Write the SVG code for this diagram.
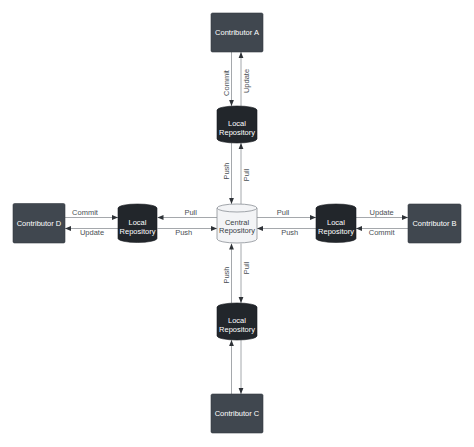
<svg xmlns="http://www.w3.org/2000/svg" width="474" height="447" viewBox="0 0 474 447">
<style>
text{font-family:"Liberation Sans",Arial,sans-serif;font-size:7.5px;text-anchor:middle}
.person rect{fill:#40474f;stroke:#343a41;stroke-width:0.6}
.person text,.local text{fill:#ffffff}
.local path{fill:#22262b;stroke:#1a1d21;stroke-width:0.6}
.central path{fill:#f3f4f6;stroke:#8a8f96;stroke-width:0.8}
.central text{fill:#3a3f45}
.edges line{stroke:#8e9297;stroke-width:0.8;marker-end:url(#ah)}
.lbl{fill:#4a4f55}
</style>
<defs>
<marker id="ah" markerWidth="6" markerHeight="6" viewBox="0 0 6 6" refX="6" refY="3" orient="auto" markerUnits="userSpaceOnUse">
<path d="M0,0.6 L6,3 L0,5.4 z" fill="#2e3237"/>
</marker>
</defs>
<rect width="474" height="447" fill="#ffffff"/>

<g class="edges">
<line x1="231.5" y1="52" x2="231.5" y2="106"/>
<line x1="241" y1="106" x2="241" y2="52"/>
<line x1="231.5" y1="143" x2="231.5" y2="204"/>
<line x1="241" y1="204" x2="241" y2="143"/>
<line x1="65" y1="217.5" x2="118" y2="217.5"/>
<line x1="118" y1="228.5" x2="65" y2="228.5"/>
<line x1="217" y1="217.5" x2="157.5" y2="217.5"/>
<line x1="157.5" y1="228.5" x2="217" y2="228.5"/>
<line x1="257" y1="217.5" x2="316" y2="217.5"/>
<line x1="316" y1="228.5" x2="257" y2="228.5"/>
<line x1="356" y1="217.5" x2="408" y2="217.5"/>
<line x1="408" y1="228.5" x2="356" y2="228.5"/>
<line x1="231.5" y1="303" x2="231.5" y2="243.5"/>
<line x1="241" y1="243.5" x2="241" y2="303"/>
<line x1="231.5" y1="394" x2="231.5" y2="340"/>
<line x1="241" y1="340" x2="241" y2="394"/>
<text class="lbl" x="229.3" y="83" transform="rotate(-90 229.3 83)">Commit</text>
<text class="lbl" x="249.4" y="81" transform="rotate(-90 249.4 81)">Update</text>
<text class="lbl" x="229.3" y="171" transform="rotate(-90 229.3 171)">Push</text>
<text class="lbl" x="249.4" y="175" transform="rotate(-90 249.4 175)">Pull</text>
<text class="lbl" x="229.3" y="275" transform="rotate(-90 229.3 275)">Push</text>
<text class="lbl" x="249.4" y="268" transform="rotate(-90 249.4 268)">Pull</text>
<text class="lbl" x="85" y="215.3">Commit</text>
<text class="lbl" x="92" y="235.4">Update</text>
<text class="lbl" x="190.7" y="215.3">Pull</text>
<text class="lbl" x="183.7" y="235.4">Push</text>
<text class="lbl" x="283" y="215.3">Pull</text>
<text class="lbl" x="289.7" y="235.4">Push</text>
<text class="lbl" x="381.7" y="215.3">Update</text>
<text class="lbl" x="381.7" y="235.4">Commit</text>
</g>

<g id="contributor-a" class="person">
<rect x="211" y="13" width="52" height="39" rx="1.5"/>
<text x="237" y="35">Contributor A</text>
</g>
<g id="contributor-b" class="person">
<rect x="408" y="204" width="53" height="39" rx="1.5"/>
<text x="434.5" y="226">Contributor B</text>
</g>
<g id="contributor-c" class="person">
<rect x="211" y="394" width="52" height="39" rx="1.5"/>
<text x="237" y="416">Contributor C</text>
</g>
<g id="contributor-d" class="person">
<rect x="13" y="203.5" width="52" height="39.5" rx="1.5"/>
<text x="39" y="226">Contributor D</text>
</g>

<g id="local-a" class="local">
<path d="M217,110 a20,4 0 0 1 40,0 v29 a20,4 0 0 1 -40,0 z"/>
<text x="237" y="126">Local</text>
<text x="237" y="135">Repository</text>
</g>
<g id="local-d" class="local">
<path d="M118,208 a19.5,4 0 0 1 39,0 v30.5 a19.5,4 0 0 1 -39,0 z"/>
<text x="137.5" y="224.5">Local</text>
<text x="137.5" y="233.5">Repository</text>
</g>
<g id="local-b" class="local">
<path d="M316,208 a20,4 0 0 1 40,0 v30.5 a20,4 0 0 1 -40,0 z"/>
<text x="336" y="224.5">Local</text>
<text x="336" y="233.5">Repository</text>
</g>
<g id="local-c" class="local">
<path d="M217,307 a20,4 0 0 1 40,0 v29 a20,4 0 0 1 -40,0 z"/>
<text x="237" y="323">Local</text>
<text x="237" y="332">Repository</text>
</g>

<g id="central" class="central">
<path d="M217,208 a20,4 0 0 1 40,0 v31 a20,4 0 0 1 -40,0 z"/>
<path d="M217,208 a20,4 0 0 0 40,0" fill="none"/>
<text x="237" y="224.5">Central</text>
<text x="237" y="233">Repository</text>
</g>
</svg>
